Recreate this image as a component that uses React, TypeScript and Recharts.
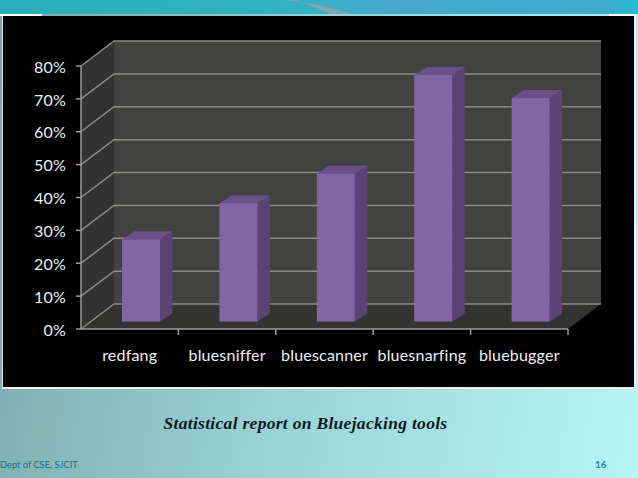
import React from "react";
import { BarChart, Bar, XAxis, YAxis, ReferenceLine, ReferenceArea } from "recharts";

const categories = ["redfang", "bluesniffer", "bluescanner", "bluesnarfing", "bluebugger"];
const usage = [25, 36, 45, 75, 68];
const percentTicks = [0, 10, 20, 30, 40, 50, 60, 70, 80];
const chartTitle = "Statistical report on Bluejacking tools";
const footerLeft = "Dept of CSE, SJCIT";
const footerRight = "16";

const rows = categories.map((name, i) => ({ name, usage: usage[i] }));

// Depth of the mock 3-D box and of the bars
const WALL_DX = 33;
const WALL_DY = -25;
const BAR_SHIFT_X = 11;
const BAR_SHIFT_Y = -7.5;
const BAR_DX = 12.5;
const BAR_DY = -8;
const GRID = "#8b8b86";
const AXIS = "#9a9a96";
const FONT = "Lato, 'Open Sans', sans-serif";
const LABEL_SIZE = 16;

function Walls(p: any) {
  const { x, y, width: w, height: h } = p;
  const d = (pts: number[][]) => pts.map((c) => c.join(",")).join(" ");
  return (
    <g>
      <polygon points={d([[x + WALL_DX, y + WALL_DY], [x + w + WALL_DX, y + WALL_DY], [x + w + WALL_DX, y + h + WALL_DY], [x + WALL_DX, y + h + WALL_DY]])} fill="#424241" />
      <polygon points={d([[x, y], [x + WALL_DX, y + WALL_DY], [x + WALL_DX, y + h + WALL_DY], [x, y + h]])} fill="#323232" />
      <polygon points={d([[x, y + h], [x + WALL_DX, y + h + WALL_DY], [x + w + WALL_DX, y + h + WALL_DY], [x + w, y + h]])} fill="#333332" />
    </g>
  );
}

function GridLine(p: any) {
  const { x1, y1, x2, y2 } = p;
  return (
    <g fill="none" stroke={GRID} strokeWidth={1.5}>
      <polyline points={`${x1},${y1} ${x1 + WALL_DX},${y1 + WALL_DY} ${x2 + WALL_DX},${y2 + WALL_DY}`} />
      <line x1={x1 - 5} y1={y1} x2={x1} y2={y1} stroke={AXIS} />
    </g>
  );
}

function Bar3D(p: any) {
  const x = p.x + BAR_SHIFT_X;
  const y = p.y + BAR_SHIFT_Y;
  const w = p.width;
  const h = p.height;
  return (
    <g>
      <polygon points={`${x + w},${y} ${x + w + BAR_DX},${y + BAR_DY} ${x + w + BAR_DX},${y + h + BAR_DY} ${x + w},${y + h}`} fill="#5b4375" />
      <polygon points={`${x},${y} ${x + BAR_DX},${y + BAR_DY} ${x + w + BAR_DX},${y + BAR_DY} ${x + w},${y}`} fill="#6a4f88" />
      <rect x={x} y={y} width={w} height={h} fill="#8365a5" />
    </g>
  );
}

function CategoryTick(p: any) {
  const { x, y, payload } = p;
  const half = payload.offset ?? 48.7;
  return (
    <g>
      <line x1={x + half} y1={y - 8} x2={x + half} y2={y - 2} stroke={AXIS} strokeWidth={1.5} />
      <text x={x} y={y + 24} textAnchor="middle" fontFamily={FONT} fontSize={LABEL_SIZE} letterSpacing={0.2} fill="#efefef">
        {payload.value}
      </text>
    </g>
  );
}

const NoMark = () => null;
const layer: React.CSSProperties = { position: "absolute", left: 0, top: 0 };

export default function App() {
  return (
    <div style={{ position: "absolute", left: 0, top: 0, width: 638, height: 478, overflow: "hidden", background: "linear-gradient(100deg, #78a6ab 0%, #98d0d3 45%, #b6f6f6 100%)" }}>
      <div style={{ position: "absolute", left: 0, top: 0, width: 638, height: 14, background: "linear-gradient(90deg, #2aaeb9 0%, #30b2c4 45%, #44a8cc 60%, #3fa9cd 95%, #22bcd6 100%)" }} />
      <svg style={layer} width={638} height={15}>
        <path d="M284 0 Q320 3 352 14 L330 14 Q310 5 296 0 Z" fill="#7fa8ac" />
      </svg>
      <div style={{ position: "absolute", left: 0, top: 14, width: 42, height: 2, background: "#fff" }} />
      <div style={{ position: "absolute", left: 609, top: 14, width: 27, height: 2, background: "#fff" }} />
      <div style={{ position: "absolute", left: 2, top: 16, width: 634, height: 373, boxSizing: "border-box", background: "#000", borderLeft: "1px solid #ddd", borderRight: "2px solid #eee", borderBottom: "2px solid #eee" }} />
      <div style={layer}>
        <BarChart width={638} height={478} data={rows} margin={{ top: 66, right: 70, bottom: 0, left: 0 }}>
          <XAxis dataKey="name" height={149} axisLine={false} tickLine={false} tick={false} />
          <YAxis width={81} domain={[0, 80]} ticks={percentTicks} axisLine={false} tickLine={false} tick={false} />
          <ReferenceArea y1={0} y2={80} shape={Walls} fillOpacity={1} />
          {percentTicks.map((t) => (
            <ReferenceLine key={t} y={t} shape={GridLine} />
          ))}
          <Bar dataKey="usage" isAnimationActive={false} shape={NoMark} />
        </BarChart>
      </div>
      <div style={layer}>
        <BarChart width={638} height={478} data={rows} margin={{ top: 66, right: 70, bottom: 0, left: 0 }} barSize={38}>
          <XAxis dataKey="name" height={149} interval={0} axisLine={{ stroke: AXIS, strokeWidth: 1.5 }} tickLine={false} tick={CategoryTick} />
          <YAxis width={81} domain={[0, 80]} ticks={percentTicks} tickFormatter={(v: number) => `${v}%`} axisLine={{ stroke: AXIS, strokeWidth: 1.5 }} tickLine={false} tickMargin={9} tick={{ fill: "#efefef", fontFamily: FONT, fontSize: LABEL_SIZE, letterSpacing: 0.2, dy: 1 }} />
          <Bar dataKey="usage" isAnimationActive={false} shape={Bar3D} />
        </BarChart>
      </div>
      <div style={{ position: "absolute", left: 0, width: 611, top: 413, textAlign: "center", fontFamily: "'Liberation Serif', serif", fontStyle: "italic", fontWeight: 700, fontSize: 17.5, letterSpacing: 0.3, color: "#0d1a22", lineHeight: "20px" }}>{chartTitle}</div>
      <div style={{ position: "absolute", left: 0, top: 458, fontFamily: FONT, fontSize: 9.3, color: "#1f6d85", lineHeight: "13px" }}>{footerLeft}</div>
      <div style={{ position: "absolute", left: 595, top: 458, fontFamily: FONT, fontSize: 10, fontWeight: 700, color: "#2a7f90", lineHeight: "13px" }}>{footerRight}</div>
    </div>
  );
}
